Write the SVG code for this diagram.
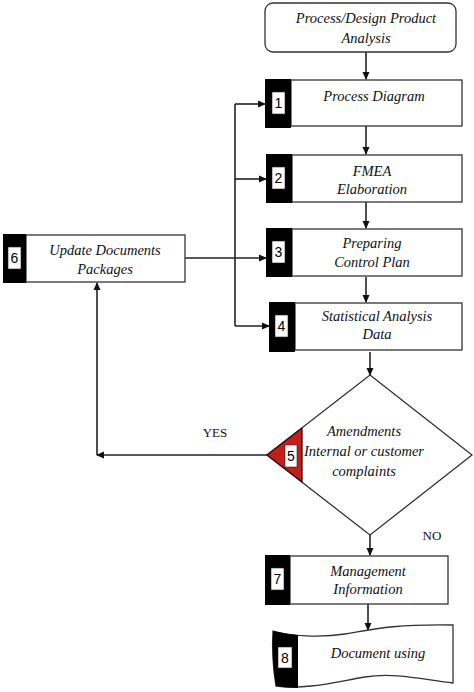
<svg xmlns="http://www.w3.org/2000/svg" width="474" height="692" viewBox="0 0 474 692">
<defs>
<marker id="ah" markerWidth="8" markerHeight="8" refX="7" refY="4" orient="auto" markerUnits="userSpaceOnUse">
<path d="M0,0.5 L8,4 L0,7.5 Z" fill="#111"/>
</marker>
<style>
.box{fill:#fff;stroke:#333;stroke-width:1.3}
.tab{fill:#000}
.nb{fill:#fff;stroke:#222;stroke-width:0.6}
.num{font-family:"Liberation Sans",Arial,sans-serif;font-size:14px;fill:#000;text-anchor:middle}
.t{font-family:"Liberation Serif","Times New Roman",serif;font-style:italic;font-size:14.5px;fill:#111;text-anchor:middle}
.lb{font-family:"Liberation Serif","Times New Roman",serif;font-size:13px;fill:#111;text-anchor:middle}
.c{fill:none;stroke:#222;stroke-width:1.6}
</style>
</defs>
<rect width="474" height="692" fill="#fff"/>
<g id="connectors">
<line class="c" x1="366" y1="52" x2="366" y2="79" marker-end="url(#ah)"/>
<line class="c" x1="366" y1="126" x2="366" y2="154" marker-end="url(#ah)"/>
<line class="c" x1="366" y1="202" x2="366" y2="228" marker-end="url(#ah)"/>
<line class="c" x1="366" y1="277" x2="366" y2="302" marker-end="url(#ah)"/>
<line class="c" x1="370" y1="352" x2="370" y2="375" marker-end="url(#ah)"/>
<line class="c" x1="370" y1="535" x2="370" y2="555" marker-end="url(#ah)"/>
<line class="c" x1="368" y1="604" x2="368" y2="630" marker-end="url(#ah)"/>
<line class="c" x1="235" y1="104" x2="235" y2="326"/>
<line class="c" x1="235" y1="104" x2="265" y2="104" marker-end="url(#ah)"/>
<line class="c" x1="235" y1="179" x2="266" y2="179" marker-end="url(#ah)"/>
<line class="c" x1="185" y1="258" x2="266" y2="258" marker-end="url(#ah)"/>
<line class="c" x1="235" y1="326" x2="269" y2="326" marker-end="url(#ah)"/>
<line class="c" x1="267" y1="455" x2="97" y2="455" marker-end="url(#ah)"/>
<line class="c" x1="97" y1="455" x2="97" y2="283" marker-end="url(#ah)"/>
<text class="lb" x="215" y="437">YES</text>
<text class="lb" x="432" y="540">NO</text>
</g>
<g id="node0">
<rect class="box" x="265" y="3" width="191" height="49" rx="8"/>
<text class="t" x="366" y="23">Process/Design Product</text>
<text class="t" x="366" y="43">Analysis</text>
</g>
<g id="node1">
<rect class="box" x="291" y="80" width="171" height="46"/>
<rect class="tab" x="265" y="79" width="26" height="49"/>
<rect class="nb" x="272" y="92" width="13" height="22"/>
<text class="num" x="278.5" y="108">1</text>
<text class="t" x="374" y="101">Process Diagram</text>
</g>
<g id="node2">
<rect class="box" x="292" y="155" width="170" height="47"/>
<rect class="tab" x="266" y="154" width="26" height="49"/>
<rect class="nb" x="272" y="167" width="13" height="22"/>
<text class="num" x="278.5" y="183">2</text>
<text class="t" x="372" y="176">FMEA</text>
<text class="t" x="372" y="194">Elaboration</text>
</g>
<g id="node3">
<rect class="box" x="292" y="229" width="170" height="47"/>
<rect class="tab" x="266" y="228" width="26" height="49"/>
<rect class="nb" x="272" y="241" width="13" height="22"/>
<text class="num" x="278.5" y="257">3</text>
<text class="t" x="372" y="248">Preparing</text>
<text class="t" x="372" y="267">Control Plan</text>
</g>
<g id="node4">
<rect class="box" x="295" y="303" width="167" height="47"/>
<rect class="tab" x="269" y="302" width="26" height="50"/>
<rect class="nb" x="275" y="315" width="13" height="22"/>
<text class="num" x="281.5" y="331">4</text>
<text class="t" x="377" y="321">Statistical Analysis</text>
<text class="t" x="377" y="339">Data</text>
</g>
<g id="node5">
<polygon points="370,375 472,455 370,535 267,455" fill="#fff" stroke="#333" stroke-width="1.3"/>
<polygon points="267,455 302,428 302,482" fill="#c0201b" stroke="#3a0a08" stroke-width="1.3"/>
<rect class="nb" x="285" y="445" width="12" height="22"/>
<text class="num" x="291" y="461">5</text>
<text class="t" x="364" y="436">Amendments</text>
<text class="t" x="364" y="456">Internal or customer</text>
<text class="t" x="364" y="476">complaints</text>
</g>
<g id="node6">
<rect class="box" x="26" y="235" width="159" height="47"/>
<rect class="tab" x="3" y="234" width="23" height="49"/>
<rect class="nb" x="8" y="247" width="13" height="22"/>
<text class="num" x="14.5" y="263">6</text>
<text class="t" x="105" y="255">Update Documents</text>
<text class="t" x="105" y="274">Packages</text>
</g>
<g id="node7">
<rect class="box" x="290" y="556" width="158" height="48"/>
<rect class="tab" x="265" y="555" width="25" height="50"/>
<rect class="nb" x="271" y="568" width="13" height="22"/>
<text class="num" x="277.5" y="584">7</text>
<text class="t" x="368" y="576">Management</text>
<text class="t" x="368" y="594">Information</text>
</g>
<g id="node8">
<path d="M273,631 C290,636 320,638 345,634 C370,630 390,624 453,625 L453,683 C425,680 395,672 365,677 C335,682 305,690 276,686 C273,668 272,648 273,631 Z" fill="#fff" stroke="#333" stroke-width="1.3"/>
<path d="M273,631 C282,633 290,634 298,635 L298,688 C290,688 283,687 276,686 C273,668 272,648 273,631 Z" fill="#000"/>
<rect class="nb" x="278" y="647" width="14" height="21"/>
<text class="num" x="285" y="663">8</text>
<text class="t" x="378" y="658">Document using</text>
</g>
</svg>
